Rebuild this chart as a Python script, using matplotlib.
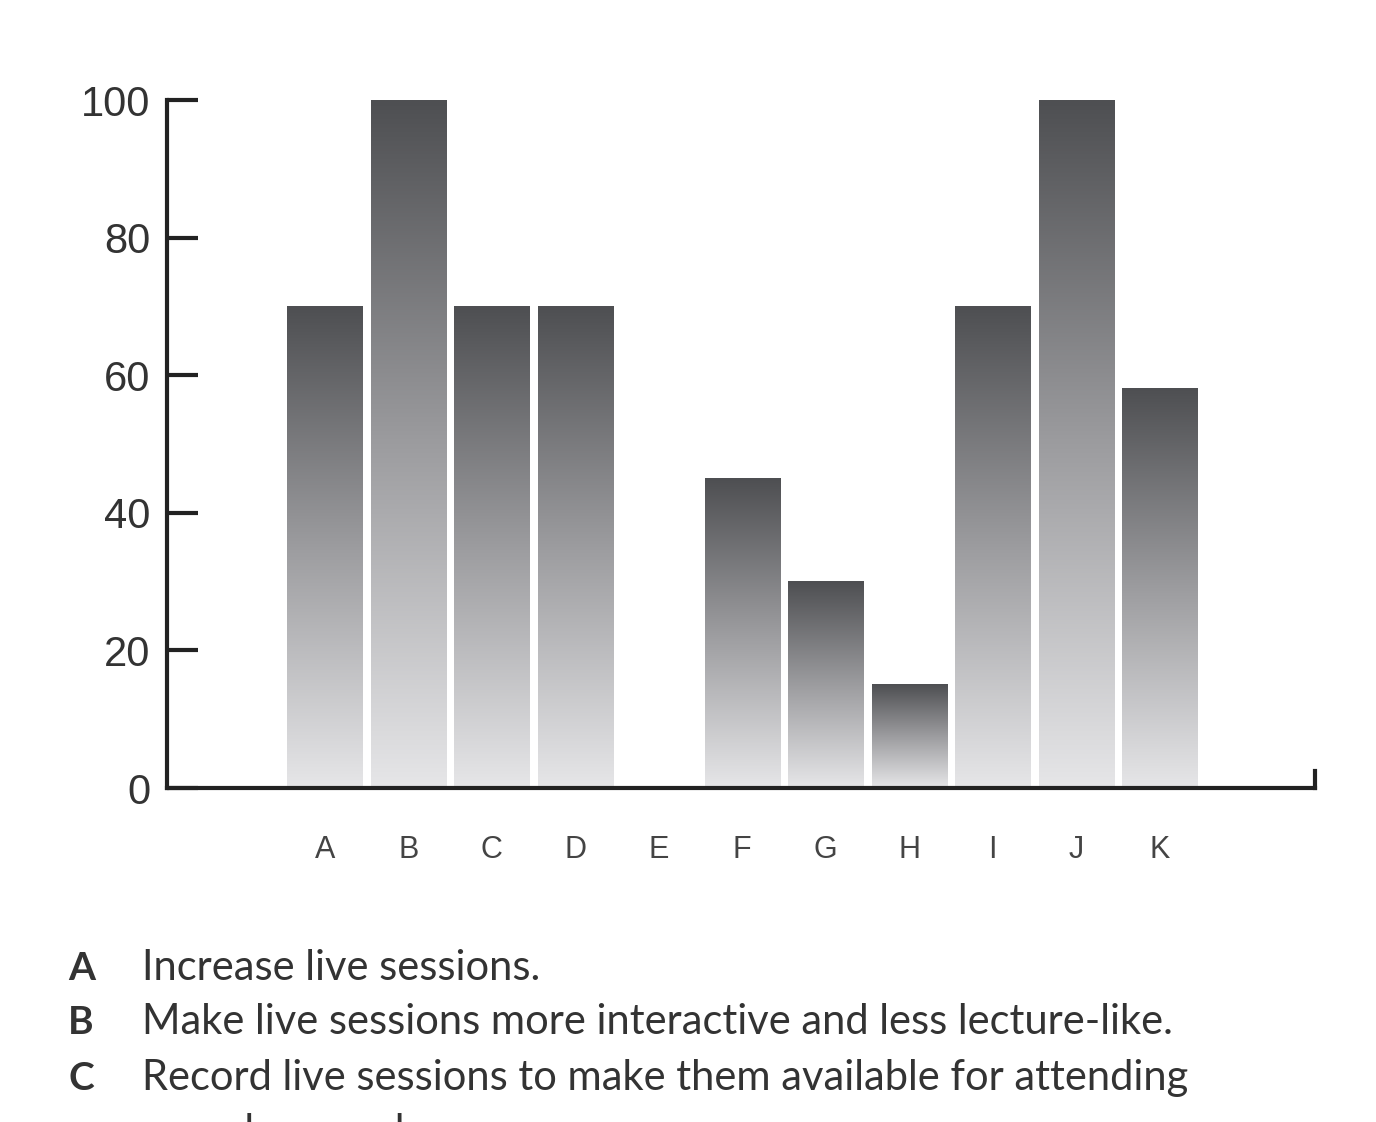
import matplotlib
matplotlib.use("Agg")
import matplotlib.pyplot as plt
import numpy as np
from matplotlib.colors import LinearSegmentedColormap

categories = ["A", "B", "C", "D", "E", "F", "G", "H", "I", "J", "K"]
values = [70, 100, 70, 70, 0, 45, 30, 15, 70, 100, 58]
yticks = [0, 20, 40, 60, 80, 100]
legend_keys = ["A", "B", "C", ""]
legend_texts = ["Increase live sessions.",
                "Make live sessions more interactive and less lecture-like.",
                "Record live sessions to make them available for attending",
                "asynchronously."]

plt.rcParams["font.family"] = ["Liberation Sans", "DejaVu Sans"]
fig = plt.figure(figsize=(13.76, 11.22), dpi=100)
ax = fig.add_axes([167/1376, 1-788/1122, (1315-167)/1376, (788-100)/1122])
cmap = LinearSegmentedColormap.from_list("g", ["#e6e6e8", "#9c9c9f", "#4e4f52"])
x = np.arange(len(categories))
w = 0.9
grad = np.linspace(0, 1, 256).reshape(-1, 1)
for xi, v in zip(x, values):
    if v <= 0:
        continue
    ax.imshow(grad, extent=[xi-w/2, xi+w/2, 0, v], origin="lower", cmap=cmap,
              aspect="auto", zorder=2)
ax.set_xlim(-1.89, 11.86)
ax.set_ylim(0, 100)
for s in ["top", "right"]:
    ax.spines[s].set_visible(False)
for s in ["left", "bottom"]:
    ax.spines[s].set_linewidth(3)
    ax.spines[s].set_color("#222")
ax.plot([11.86, 11.86], [0, 2.5], color="#222", lw=3, clip_on=False, zorder=5)
ax.set_yticks(yticks)
ax.set_yticklabels([str(t) for t in yticks], fontsize=30, color="#333")
ax.tick_params(axis="y", direction="in", length=22, width=3, color="#222", pad=12)
ax.set_xticks(x)
ax.set_xticklabels(categories, fontsize=22, color="#444")
ax.tick_params(axis="x", length=0, pad=34)

ys = [968, 1022, 1078, 1132]
for k, t, y in zip(legend_keys, legend_texts, ys):
    if k:
        fig.text(68/1376, 1-y/1122, k, fontsize=28, fontweight="bold", color="#333",
                 va="center", family=["Lato", "DejaVu Sans"])
    fig.text(142/1376, 1-y/1122, t, fontsize=30, color="#333", va="center",
             family=["Lato", "DejaVu Sans"])
fig.savefig("out.png", dpi=100)
